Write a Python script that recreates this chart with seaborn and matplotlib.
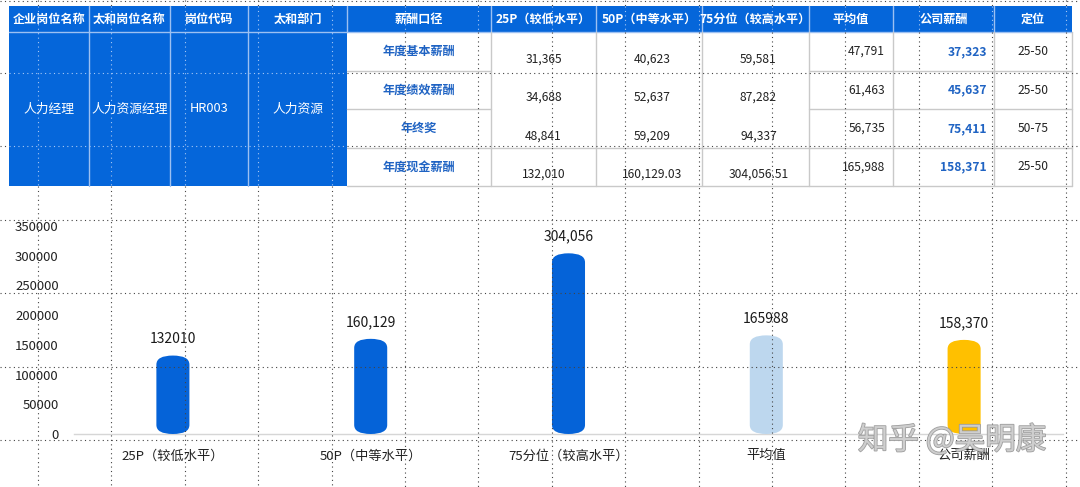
import numpy as np
import pandas as pd
import matplotlib
matplotlib.use("Agg")
import matplotlib.pyplot as plt
import seaborn as sns
from matplotlib.patches import FancyBboxPatch, Rectangle
import matplotlib.patheffects as pe

# ---------------- data ----------------
header_labels = ["企业岗位名称", "太和岗位名称", "岗位代码", "太和部门", "薪酬口径",
                 "25P（较低水平）", "50P（中等水平）", "75分位（较高水平）", "平均值", "公司薪酬", "定位"]
job_info = ["人力经理", "人力资源经理", "HR003", "人力资源"]
pay_items = ["年度基本薪酬", "年度绩效薪酬", "年终奖", "年度现金薪酬"]
p25_vals = ["31,365", "34,688", "48,841", "132,010"]
p50_vals = ["40,623", "52,637", "59,209", "160,129.03"]
p75_vals = ["59,581", "87,282", "94,337", "304,056.51"]
avg_vals = ["47,791", "61,463", "56,735", "165,988"]
company_vals = ["37,323", "45,637", "75,411", "158,371"]
position_vals = ["25-50", "25-50", "50-75", "25-50"]

categories = ["25P（较低水平）", "50P（中等水平）", "75分位（较高水平）", "平均值", "公司薪酬"]
values = [132010, 160129, 304056, 165988, 158370]
value_labels = ["132010", "160,129", "304,056", "165988", "158,370"]
bar_colors = ["#0563D8", "#0563D8", "#0563D8", "#BDD7EE", "#FFC000"]
yticks = [0, 50000, 100000, 150000, 200000, 250000, 300000, 350000]

# ---------------- style ----------------
sns.set_theme(style="white")
plt.rcParams["font.family"] = ["Noto Sans CJK SC", "DejaVu Sans"]

W, H = 1080, 487
fig = plt.figure(figsize=(W / 100, H / 100), dpi=100)
fig.patch.set_facecolor("white")

# background axes in pixel coordinates for the table
bg = fig.add_axes([0, 0, 1, 1])
bg.set_xlim(0, W)
bg.set_ylim(H, 0)
bg.axis("off")

BLUE = "#0566DA"
cols = [9, 89, 170, 248, 347, 491, 596, 702, 809, 893, 994, 1072]
rows = [6, 32, 71, 109, 148, 186]

# fills
bg.add_patch(Rectangle((cols[0], rows[0]), cols[-1] - cols[0], rows[1] - rows[0], fc=BLUE, ec="none"))
bg.add_patch(Rectangle((cols[0], rows[1]), cols[4] - cols[0], rows[-1] - rows[1], fc=BLUE, ec="none"))

light = "#9cc0f2"
gray = "#c9c9c9"
# separators in blue
for x in cols[1:4]:
    bg.plot([x, x], [rows[0], rows[-1]], color=light, lw=1)
for x in cols[4:-1]:
    bg.plot([x, x], [rows[0], rows[1]], color=light, lw=1)
bg.plot([cols[0], cols[-1]], [rows[1], rows[1]], color=light, lw=1)
# separators in white area
for x in cols[5:]:
    bg.plot([x, x], [rows[1], rows[-1]], color=gray, lw=1)
for y in rows[2:4]:
    bg.plot([cols[4], cols[5]], [y, y], color=gray, lw=1)
    bg.plot([cols[8], cols[-1]], [y, y], color=gray, lw=1)
for y in rows[4:]:
    bg.plot([cols[4], cols[-1]], [y, y], color=gray, lw=1)

# header text
for i, lab in enumerate(header_labels):
    cx = (cols[i] + cols[i + 1]) / 2
    bg.text(cx, (rows[0] + rows[1]) / 2 + 0.5, lab, ha="center", va="center",
            color="white", fontsize=8.7, fontweight="bold")
# job info
for i, lab in enumerate(job_info):
    cx = (cols[i] + cols[i + 1]) / 2
    bg.text(cx, (rows[1] + rows[-1]) / 2, lab, ha="center", va="center", color="white", fontsize=9.2)

TXT_BLUE = "#1F63C3"
for r in range(4):
    cy = (rows[r + 1] + rows[r + 2]) / 2
    lo = rows[r + 2] - 12
    bg.text((cols[4] + cols[5]) / 2, cy, pay_items[r], ha="center", va="center",
            color=TXT_BLUE, fontsize=8.7, fontweight="bold")
    bg.text((cols[5] + cols[6]) / 2, lo, p25_vals[r], ha="center", va="center", color="#222222", fontsize=8.7)
    bg.text((cols[6] + cols[7]) / 2 + 3, lo, p50_vals[r], ha="center", va="center", color="#222222", fontsize=8.7)
    bg.text((cols[7] + cols[8]) / 2 + 3, lo, p75_vals[r], ha="center", va="center", color="#222222", fontsize=8.7)
    bg.text(cols[9] - 8, cy, avg_vals[r], ha="right", va="center", color="#222222", fontsize=8.7)
    bg.text(cols[10] - 7, cy, company_vals[r], ha="right", va="center", color=TXT_BLUE,
            fontsize=8.7, fontweight="bold")
    bg.text((cols[10] + cols[11]) / 2, cy, position_vals[r], ha="center", va="center",
            color="#222222", fontsize=8.7)

# ---------------- chart ----------------
x_left, x_right, y_base, y_top = 74, 1063, 434, 226
ax = fig.add_axes([x_left / W, (H - y_base) / H, (x_right - x_left) / W, (y_base - y_top) / H])
ax.set_facecolor("none")
df = pd.DataFrame({"cat": categories, "val": values})
bw = 0.167
sns.barplot(data=df, x="cat", y="val", hue="cat", order=categories, hue_order=categories,
            palette=bar_colors, width=bw, legend=False, ax=ax, saturation=1)
ax.set_xlim(-0.5, len(categories) - 0.5)
ax.set_ylim(0, 350000)

# replace rectangles by rounded capsules
units_per_px_y = 350000 / (y_base - y_top)
ry = 9 * units_per_px_y
for p in list(ax.patches):
    x0, y0 = p.get_x(), p.get_y()
    w, h = p.get_width(), p.get_height()
    fc = p.get_facecolor()
    p.set_visible(False)
    r = w / 2
    asp = ry / r
    ax.add_patch(FancyBboxPatch((x0, y0), w, h, boxstyle=f"round,pad=0,rounding_size={r}",
                                mutation_aspect=asp, fc=fc, ec="none", zorder=3))

for i, (v, lab) in enumerate(zip(values, value_labels)):
    ax.annotate(lab, (i, v), xytext=(0, 7), textcoords="offset points", ha="center", va="bottom",
                fontsize=10, color="#1a1a1a")

ax.set_yticks(yticks)
ax.set_yticklabels([str(t) for t in yticks])
ax.set_xlabel("")
ax.set_ylabel("")
ax.tick_params(axis="y", length=0, pad=11, labelsize=9.5, labelcolor="#222222")
ax.tick_params(axis="x", length=0, pad=11, labelsize=9.5, labelcolor="#222222")
for s in ["top", "right", "left"]:
    ax.spines[s].set_visible(False)
ax.spines["bottom"].set_color("#d6d6d6")
ax.spines["bottom"].set_linewidth(1)
ax.grid(False)

# ---------------- overlay: dotted sheet grid & watermark ----------------
ov = fig.add_axes([0, 0, 1, 1])
ov.set_xlim(0, W)
ov.set_ylim(H, 0)
ov.axis("off")
ov.set_facecolor("none")
dot = dict(lw=0.8, linestyle=(0, (1, 3.0)))
dark = "#444444"
lightdot = "#a8c8f5"
xs = [38 + 73.4 * k for k in range(15)]
ys = [1] + [440 - 73.4 * k for k in range(6)]
for x in xs:
    if cols[0] < x < cols[4]:
        ov.plot([x, x], [0, rows[0]], color=dark, **dot)
        ov.plot([x, x], [rows[0], rows[-1]], color=lightdot, **dot)
        ov.plot([x, x], [rows[-1], H], color=dark, **dot)
    elif cols[4] <= x < cols[-1]:
        ov.plot([x, x], [0, rows[0]], color=dark, **dot)
        ov.plot([x, x], [rows[0], rows[1]], color=lightdot, **dot)
        ov.plot([x, x], [rows[1], H], color=dark, **dot)
    else:
        ov.plot([x, x], [0, H], color=dark, **dot)
for y in ys:
    if rows[1] < y < rows[-1]:
        ov.plot([0, cols[0]], [y, y], color=dark, **dot)
        ov.plot([cols[0], cols[4]], [y, y], color=lightdot, **dot)
        ov.plot([cols[4], W], [y, y], color=dark, **dot)
    else:
        ov.plot([0, W], [y, y], color=dark, **dot)

ov.text(952, 440, "知乎 @吴明康", ha="center", va="center", fontsize=22, color="#d0d0d0", alpha=0.95,
        path_effects=[pe.withStroke(linewidth=1.2, foreground="#9a9a9a")])

fig.savefig("out.png", dpi=100, facecolor="white")
